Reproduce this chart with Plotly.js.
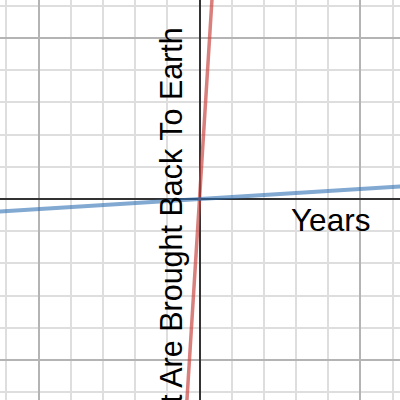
<!DOCTYPE html>
<html>
<head>
<meta charset="utf-8">
<script src="https://cdn.plot.ly/plotly-3.0.1.min.js"></script>
<style>
  html, body { margin: 0; padding: 0; background: #fff; }
  #chart { width: 400px; height: 400px; }
</style>
</head>
<body>
<div id="chart"></div>
<script>
// two lines (end points, in grid units)
const steepX = [-0.4, 0.4]
const steepY = [-6.4, 6.4]
const flatX = [-6.4, 6.4]
const flatY = [-0.4, 0.4]

const xLabel = 'Years'
const yLabel = 'Amount Of Samples That Are Brought Back To Earth'

const Plotly = window.Plotly

let steep = {
  x: steepX,
  y: steepY,
  type: 'scatter',
  mode: 'lines',
  line: { color: 'rgba(199,68,64,0.68)', width: 3.5 },
  hoverinfo: 'skip',
}

let flat = {
  x: flatX,
  y: flatY,
  type: 'scatter',
  mode: 'lines',
  line: { color: 'rgba(45,112,179,0.6)', width: 4 },
  hoverinfo: 'skip',
}

const axisStyle = {
  dtick: 5,
  tick0: 0,
  showgrid: true,
  gridcolor: '#b4b4b4',
  gridwidth: 2,
  minor: {
    dtick: 1,
    tick0: 0,
    showgrid: true,
    gridcolor: '#dedede',
    gridwidth: 2,
  },
  zeroline: true,
  zerolinecolor: '#333333',
  zerolinewidth: 2,
  showticklabels: false,
  ticks: '',
  showline: false,
  fixedrange: true,
}

const labelFont = { family: 'Arial, "Liberation Sans", sans-serif', size: 31.5, color: '#000' }

let layout = {
  width: 400,
  height: 400,
  margin: { l: 0, r: 0, t: 0, b: 0 },
  paper_bgcolor: '#fff',
  plot_bgcolor: '#fff',
  showlegend: false,
  xaxis: Object.assign({ range: [-6.196, 6.227] }, axisStyle),
  yaxis: Object.assign({ range: [-6.242, 6.18] }, axisStyle),
  annotations: [
    {
      x: 4.08,
      y: -0.66,
      xref: 'x',
      yref: 'y',
      text: xLabel,
      showarrow: false,
      xanchor: 'center',
      yanchor: 'middle',
      font: labelFont,
    },
    {
      x: -0.88,
      y: 5.38,
      xref: 'x',
      yref: 'y',
      text: yLabel,
      textangle: -90,
      showarrow: false,
      xanchor: 'center',
      yanchor: 'top',
      font: Object.assign({}, labelFont, { size: 30.5 }),
    },
  ],
}

Plotly.newPlot('chart', [steep, flat], layout, { staticPlot: true, displayModeBar: false })
</script>
</body>
</html>
